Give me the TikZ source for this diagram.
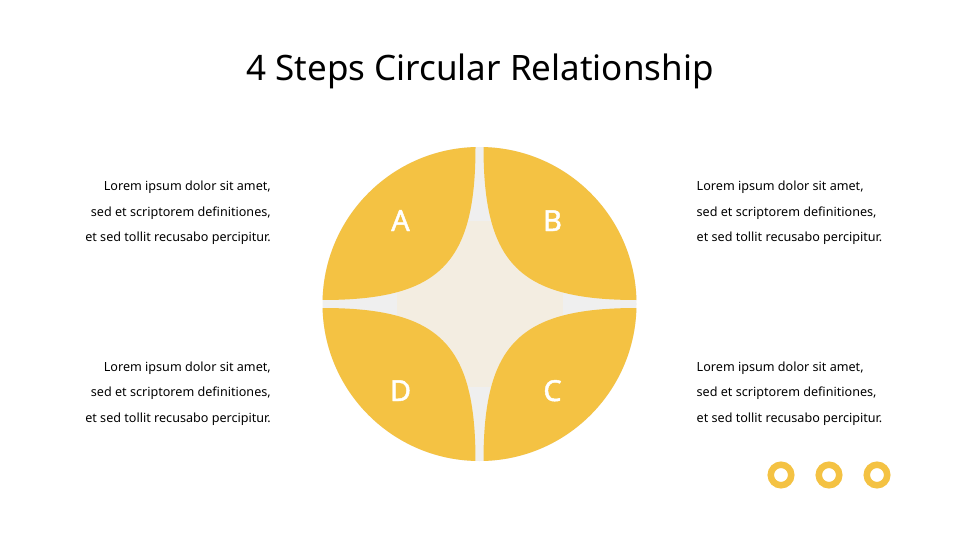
\documentclass[tikz,border=0pt]{standalone}
\usepackage{fontspec}
\setmainfont{Noto Sans}
\newfontfamily\letterfont[FakeBold=1.6]{Noto Sans}
\definecolor{qyellow}{HTML}{F4C243}
\definecolor{qgap}{HTML}{EFEFEF}
\definecolor{qbeige}{HTML}{F3EDE1}
\begin{document}
\begin{tikzpicture}[x=1pt,y=-1pt,
  body/.style={font=\fontsize{12.6}{14}\selectfont, inner sep=0pt},
  letter/.style={font=\letterfont\fontsize{29}{32}\selectfont, text=white, inner sep=0pt, anchor=base},
  ring/.style={draw=qyellow, line width=6.5pt},
  quad/.style={fill=qyellow}]
\useasboundingbox[fill=white] (0,0) rectangle (960,540);
\node[font=\fontsize{35}{38}\selectfont, anchor=base, inner sep=0pt] (title) at (480,80.5) {4 Steps Circular Relationship};
\begin{scope}[shift={(479.5,304)}, x=1pt, y=1pt]
  \fill[qgap] (0,0) circle[radius=157];
  \fill[qbeige] (-83,-83) rectangle (83,83);
  \foreach \r in {0,-90,-180,-270} {
    \path[quad, rotate=\r] (-4,156.95) arc[start angle=91.46, end angle=178.54, radius=157]
      .. controls (-40,4) and (-4,40) .. (-4,156.95) -- cycle;
  }
\end{scope}
\node[letter] (A) at (400.5,231) {A};
\node[letter] (B) at (552.5,231) {B};
\node[letter] (D) at (400.5,401) {D};
\node[letter] (C) at (552.5,401) {C};
\foreach \y/\n in {190.5/1, 371/2} {
  \node[body, anchor=base east] (l\n a) at (271,\y) {Lorem ipsum dolor sit amet,};
  \node[body, anchor=base east] (l\n b) at (271,\y+25.5) {sed et scriptorem definitiones,};
  \node[body, anchor=base east] (l\n c) at (271,\y+51) {et sed tollit recusabo percipitur.};
  \node[body, anchor=base west] (r\n a) at (696.5,\y) {Lorem ipsum dolor sit amet,};
  \node[body, anchor=base west] (r\n b) at (696.5,\y+25.5) {sed et scriptorem definitiones,};
  \node[body, anchor=base west] (r\n c) at (696.5,\y+51) {et sed tollit recusabo percipitur.};
}
\foreach \x/\n in {781/1, 829/2, 877/3} {
  \node[ring, circle, minimum size=20.5pt, inner sep=0pt] (ring\n) at (\x,475) {};
}
\end{tikzpicture}
\end{document}
